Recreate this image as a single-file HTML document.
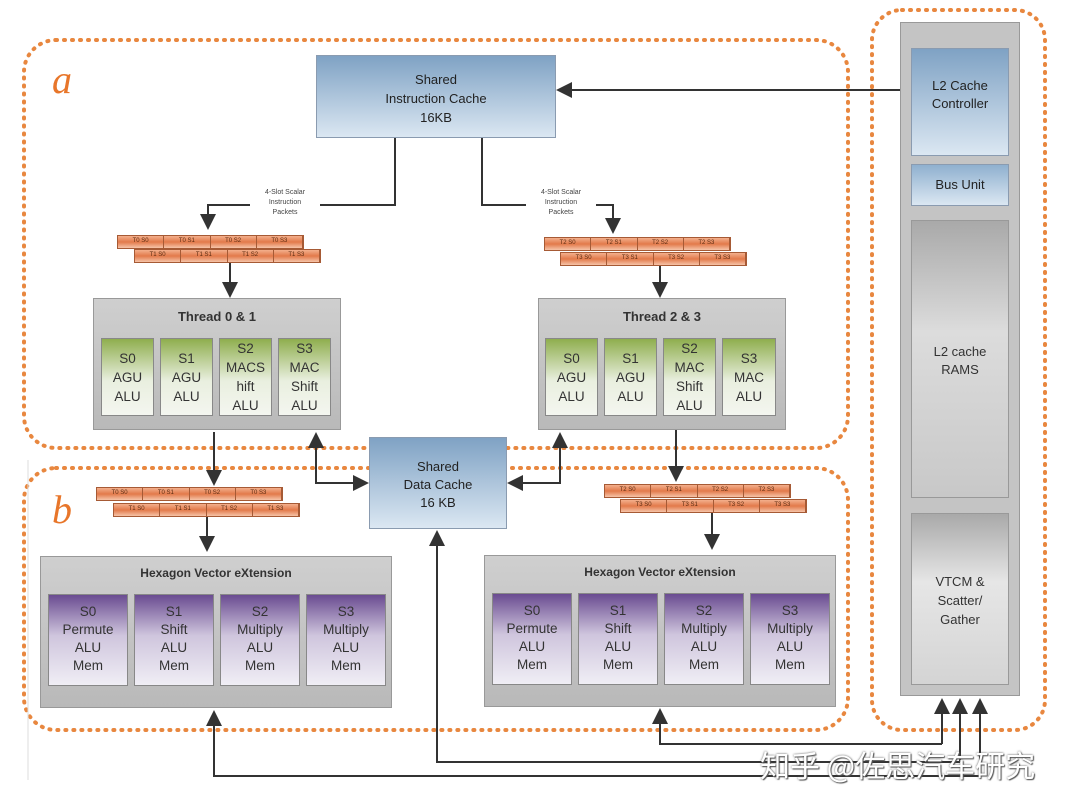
<!DOCTYPE html>
<html><head><meta charset="utf-8"><style>
body{margin:0;width:1080px;height:806px;background:#fff;position:relative;overflow:hidden;font-family:"Liberation Sans","Noto Sans CJK SC",sans-serif}
.a{position:absolute;box-sizing:border-box}
.blue{background:linear-gradient(#7fa2c4,#dbe7f2);border:1px solid #8a9bb0;text-align:center;color:#222;font-size:13px}
.gray{background:linear-gradient(#cfcfcf,#b9b9b9);border:1px solid #999}
.green{background:linear-gradient(#8fae4e,#e9efdf 55%,#f4f6f0);border:1px solid #888;text-align:center;font-size:13.5px;color:#333;line-height:19px;display:flex;align-items:center;justify-content:center}
.purple{background:linear-gradient(#6a4c91,#cfc5dd 45%,#f0eef5);border:1px solid #888;text-align:center;font-size:13.5px;color:#333;line-height:18px;padding-top:8px}
.t{font-weight:bold;font-size:13px;color:#333;text-align:center;width:100%;position:absolute}
.pk{position:absolute;height:12px;display:flex;background:linear-gradient(#f3b08c,#e27a4a 50%,#f6c3a8);border:1px solid #a65a35}
.pk span{flex:1;font-size:6px;color:#5a2a10;text-align:center;line-height:11px;border-right:1px solid #a65a35}
.lbl{position:absolute;font-family:"Liberation Serif",serif;font-style:italic;color:#e8762a;font-size:40px}
</style></head><body>
<svg class="a" style="left:0;top:0" width="1080" height="806">
<defs><marker id="m" markerWidth="8" markerHeight="8" refX="7" refY="4" orient="auto"><path d="M0,0L8,4L0,8z" fill="#333"/></marker></defs>
<g fill="none" stroke="#e8873f" stroke-width="4" stroke-dasharray="1 7" stroke-linecap="round">
<rect x="24" y="40" width="824" height="408" rx="32"/>
<rect x="24" y="468" width="824" height="262" rx="32"/>
<rect x="872" y="10" width="173" height="720" rx="30"/>
</g>
<g fill="none" stroke="#333" stroke-width="2">
<path d="M910,90H558" marker-end="url(#m)"/>
<path d="M395,138V205H208V228" marker-end="url(#m)"/>
<path d="M482,138V205H613V232" marker-end="url(#m)"/>
<path d="M230,262V296" marker-end="url(#m)"/>
<path d="M660,265V296" marker-end="url(#m)"/>
<path d="M214,432V484" marker-end="url(#m)"/>
<path d="M676,430V480" marker-end="url(#m)"/>
<path d="M316,448V483H367" marker-end="url(#m)"/>
<path d="M316,450V434" marker-end="url(#m)"/>
<path d="M560,448V483H509" marker-end="url(#m)"/>
<path d="M560,450V434" marker-end="url(#m)"/>
<path d="M207,516V550" marker-end="url(#m)"/>
<path d="M712,512V548" marker-end="url(#m)"/>
<path d="M980,776H214V712" marker-end="url(#m)"/>
<path d="M960,762H437V532" marker-end="url(#m)"/>
<path d="M942,744H660V710" marker-end="url(#m)"/>
<path d="M942,744V700" marker-end="url(#m)"/>
<path d="M960,762V700" marker-end="url(#m)"/>
<path d="M980,776V700" marker-end="url(#m)"/>
</g>
<line x1="28" y1="460" x2="28" y2="780" stroke="#ddd"/>
</svg>
<div class="lbl" style="left:52px;top:56px">a</div>
<div class="lbl" style="left:52px;top:486px">b</div>
<div class="lbl" style="left:948px;top:480px">c</div>

<div class="a blue" style="left:316px;top:55px;width:240px;height:83px;padding-top:14px;line-height:19px">Shared<br>Instruction Cache<br>16KB</div>
<div class="a" style="left:250px;top:188px;width:70px;font-size:7px;text-align:center;color:#444;line-height:10px;background:#fff">4-Slot Scalar<br>Instruction<br>Packets</div>
<div class="a" style="left:526px;top:188px;width:70px;font-size:7px;text-align:center;color:#444;line-height:10px;background:#fff">4-Slot Scalar<br>Instruction<br>Packets</div>

<div class="pk" style="left:117px;top:235px;width:185px"><span>T0 S0</span><span>T0 S1</span><span>T0 S2</span><span>T0 S3</span></div>
<div class="pk" style="left:134px;top:249px;width:185px"><span>T1 S0</span><span>T1 S1</span><span>T1 S2</span><span>T1 S3</span></div>
<div class="pk" style="left:544px;top:237px;width:185px"><span>T2 S0</span><span>T2 S1</span><span>T2 S2</span><span>T2 S3</span></div>
<div class="pk" style="left:560px;top:252px;width:185px"><span>T3 S0</span><span>T3 S1</span><span>T3 S2</span><span>T3 S3</span></div>
<div class="pk" style="left:96px;top:487px;width:185px"><span>T0 S0</span><span>T0 S1</span><span>T0 S2</span><span>T0 S3</span></div>
<div class="pk" style="left:113px;top:503px;width:185px"><span>T1 S0</span><span>T1 S1</span><span>T1 S2</span><span>T1 S3</span></div>
<div class="pk" style="left:604px;top:484px;width:185px"><span>T2 S0</span><span>T2 S1</span><span>T2 S2</span><span>T2 S3</span></div>
<div class="pk" style="left:620px;top:499px;width:185px"><span>T3 S0</span><span>T3 S1</span><span>T3 S2</span><span>T3 S3</span></div>

<div class="a gray" style="left:93px;top:298px;width:248px;height:132px"><div class="t" style="top:10px">Thread 0 &amp; 1</div></div>
<div class="a green" style="left:101px;top:338px;width:53px;height:78px">S0<br>AGU<br>ALU</div>
<div class="a green" style="left:160px;top:338px;width:53px;height:78px">S1<br>AGU<br>ALU</div>
<div class="a green" style="left:219px;top:338px;width:53px;height:78px">S2<br>MACS<br>hift<br>ALU</div>
<div class="a green" style="left:278px;top:338px;width:53px;height:78px">S3<br>MAC<br>Shift<br>ALU</div>

<div class="a gray" style="left:538px;top:298px;width:248px;height:132px"><div class="t" style="top:10px">Thread 2 &amp; 3</div></div>
<div class="a green" style="left:545px;top:338px;width:53px;height:78px">S0<br>AGU<br>ALU</div>
<div class="a green" style="left:604px;top:338px;width:53px;height:78px">S1<br>AGU<br>ALU</div>
<div class="a green" style="left:663px;top:338px;width:53px;height:78px">S2<br>MAC<br>Shift<br>ALU</div>
<div class="a green" style="left:722px;top:338px;width:54px;height:78px">S3<br>MAC<br>ALU</div>

<div class="a blue" style="left:369px;top:437px;width:138px;height:92px;padding-top:20px;line-height:18px">Shared<br>Data Cache<br>16 KB</div>

<div class="a gray" style="left:40px;top:556px;width:352px;height:152px"><div class="t" style="top:9px;font-size:12px">Hexagon Vector eXtension</div></div>
<div class="a purple" style="left:48px;top:594px;width:80px;height:92px">S0<br>Permute<br>ALU<br>Mem</div>
<div class="a purple" style="left:134px;top:594px;width:80px;height:92px">S1<br>Shift<br>ALU<br>Mem</div>
<div class="a purple" style="left:220px;top:594px;width:80px;height:92px">S2<br>Multiply<br>ALU<br>Mem</div>
<div class="a purple" style="left:306px;top:594px;width:80px;height:92px">S3<br>Multiply<br>ALU<br>Mem</div>

<div class="a gray" style="left:484px;top:555px;width:352px;height:152px"><div class="t" style="top:9px;font-size:12px">Hexagon Vector eXtension</div></div>
<div class="a purple" style="left:492px;top:593px;width:80px;height:92px">S0<br>Permute<br>ALU<br>Mem</div>
<div class="a purple" style="left:578px;top:593px;width:80px;height:92px">S1<br>Shift<br>ALU<br>Mem</div>
<div class="a purple" style="left:664px;top:593px;width:80px;height:92px">S2<br>Multiply<br>ALU<br>Mem</div>
<div class="a purple" style="left:750px;top:593px;width:80px;height:92px">S3<br>Multiply<br>ALU<br>Mem</div>

<div class="a gray" style="left:900px;top:22px;width:120px;height:674px;background:#c4c4c4"></div>
<div class="a blue" style="left:911px;top:48px;width:98px;height:108px;padding-top:28px;line-height:18px">L2 Cache<br>Controller</div>
<div class="a blue" style="left:911px;top:164px;width:98px;height:42px;padding-top:12px;background:linear-gradient(#8fb0cf,#dbe7f2)">Bus Unit</div>
<div class="a gray" style="left:911px;top:220px;width:98px;height:278px;text-align:center;font-size:13px;color:#333;padding-top:122px;line-height:18px;background:linear-gradient(#a9a9a9,#dcdcdc 40%,#c8c8c8)">L2 cache<br>RAMS</div>
<div class="a gray" style="left:911px;top:513px;width:98px;height:172px;text-align:center;font-size:13px;color:#333;padding-top:58px;line-height:19px;background:linear-gradient(#a9a9a9,#e6e6e6 40%,#d4d4d4)">VTCM &amp;<br>Scatter/<br>Gather</div>

<div class="a" style="left:760px;top:742px;font-size:30px;color:#fff;text-shadow:0 0 2px #555,1px 1px 1px #555;font-family:'Noto Sans CJK SC',sans-serif;white-space:nowrap">知乎 @佐思汽车研究</div>
</body></html>
